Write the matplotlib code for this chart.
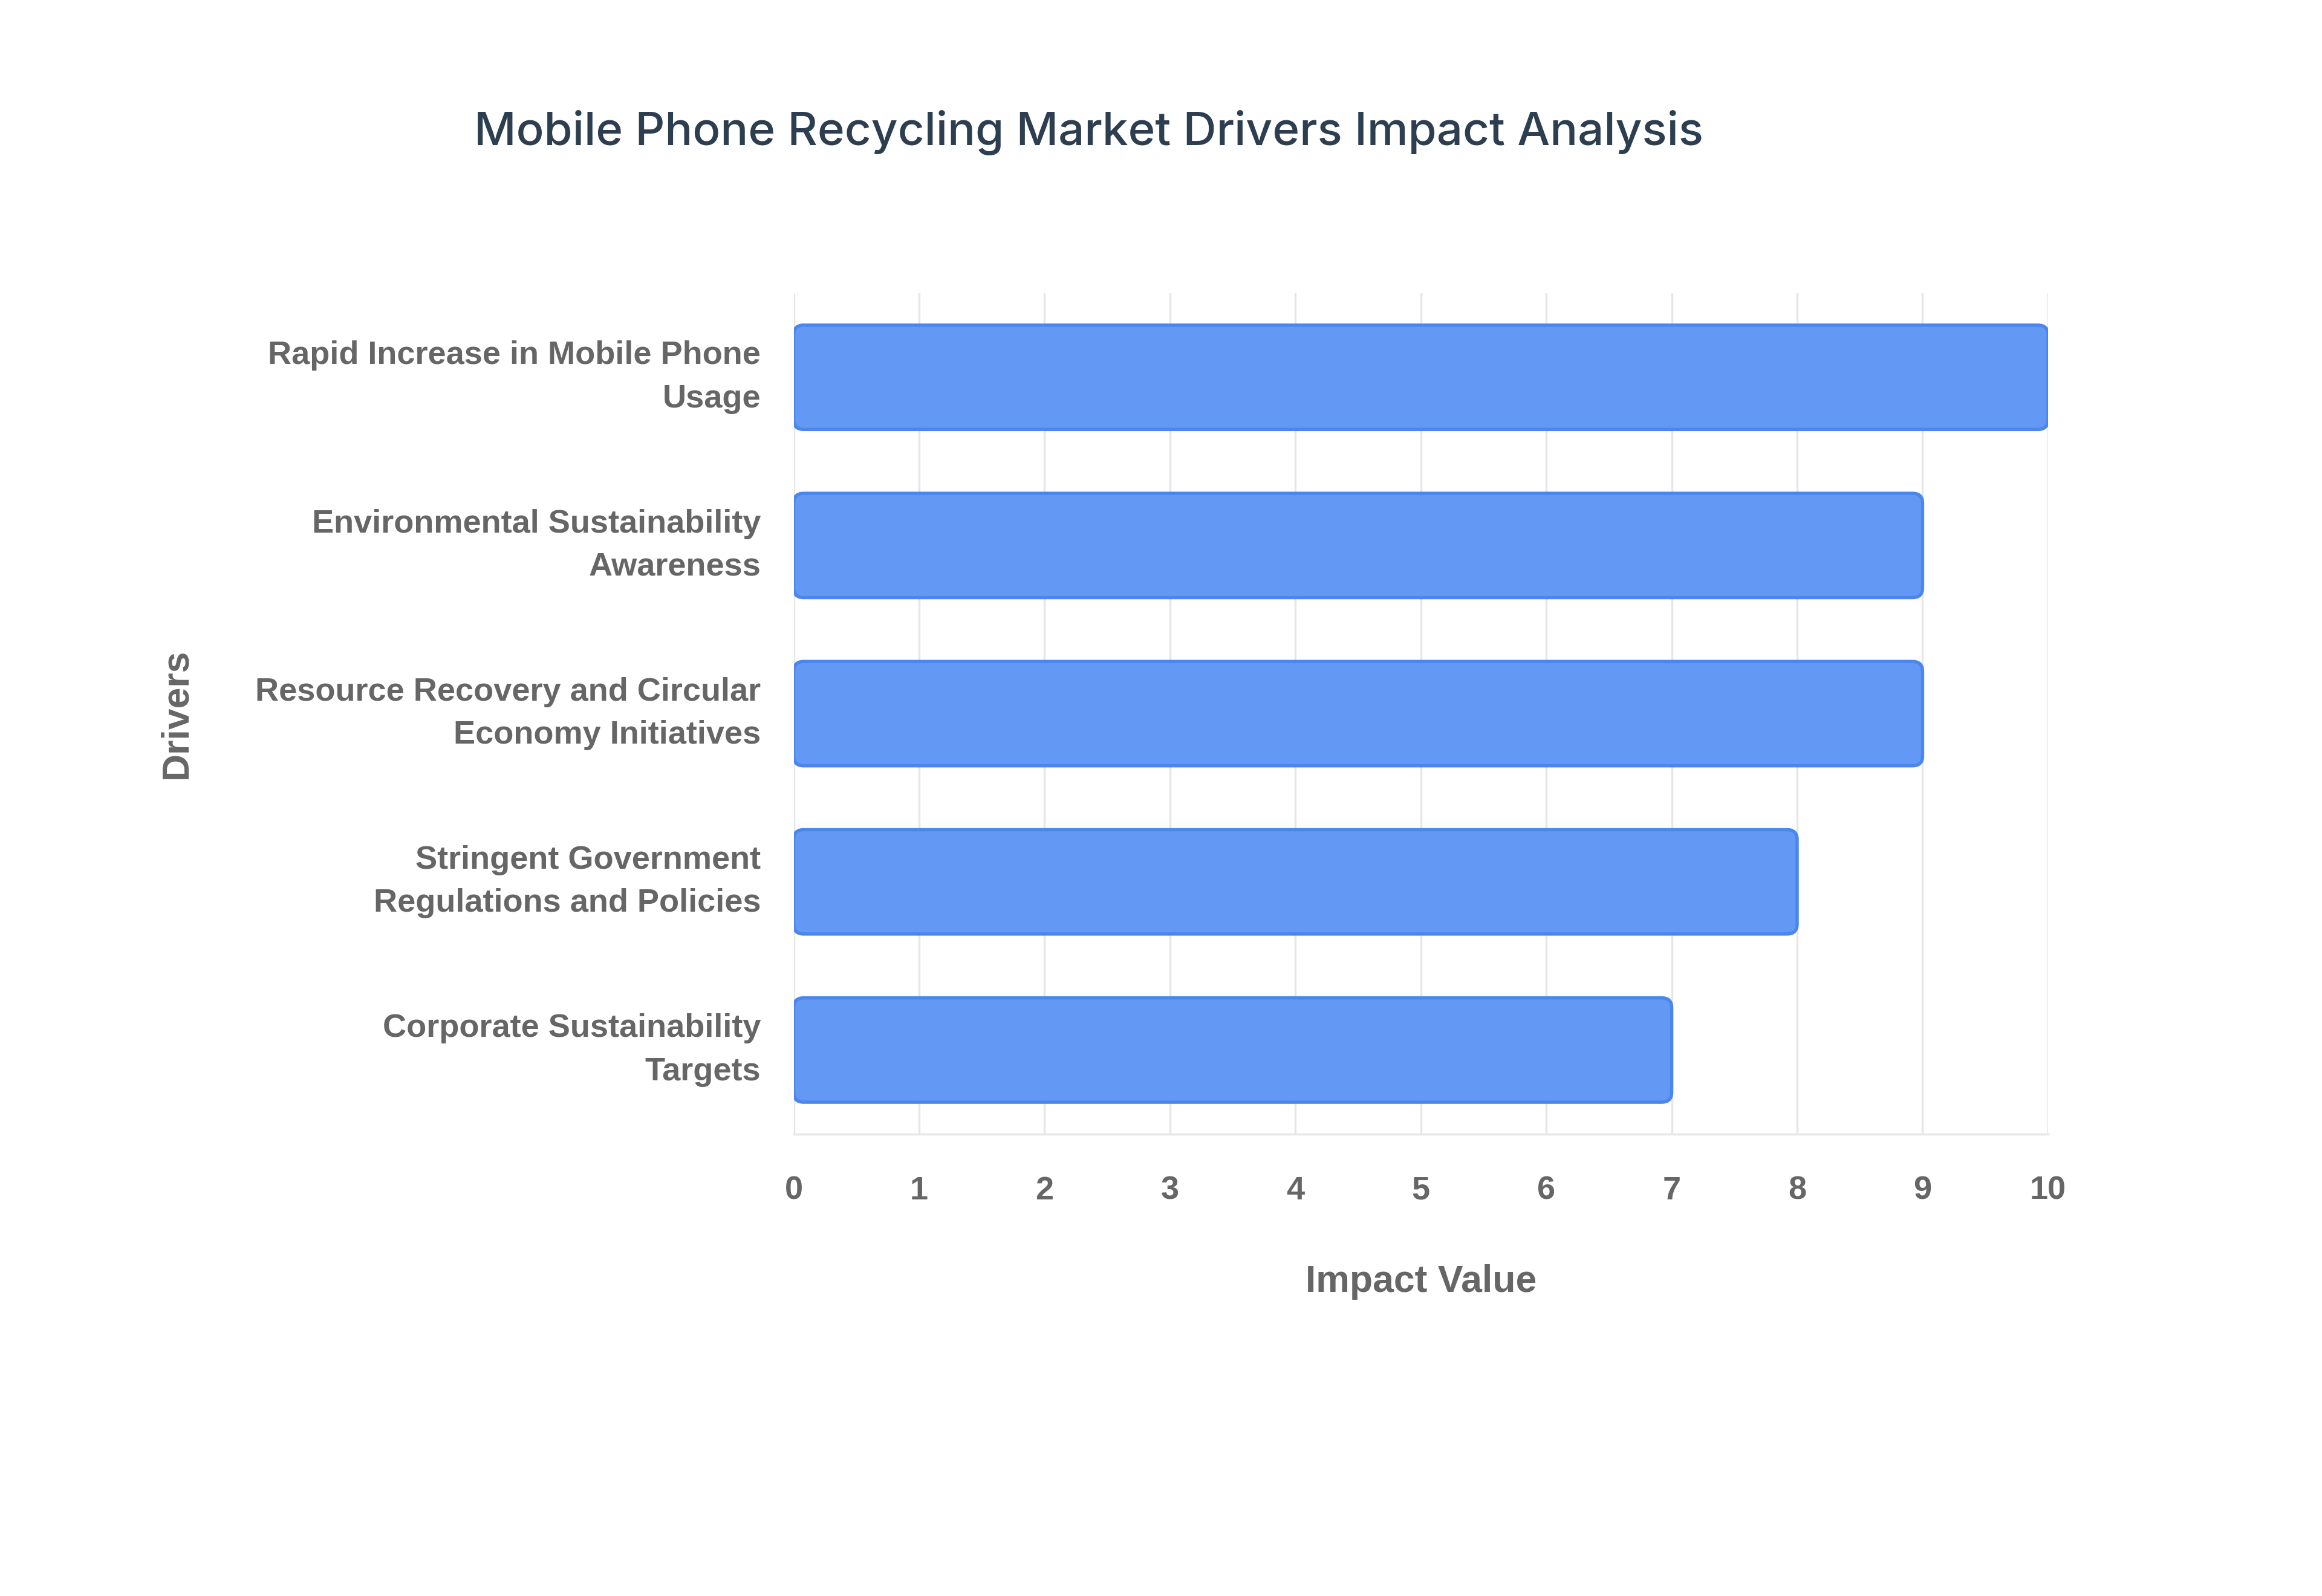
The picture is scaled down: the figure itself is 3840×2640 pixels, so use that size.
import matplotlib.pyplot as plt
import matplotlib.transforms as mtransforms
from matplotlib.patches import FancyBboxPatch

# data (top to bottom)
drivers = [
    "Rapid Increase in Mobile Phone\nUsage",
    "Environmental Sustainability\nAwareness",
    "Resource Recovery and Circular\nEconomy Initiatives",
    "Stringent Government\nRegulations and Policies",
    "Corporate Sustainability\nTargets",
]
impact = [10, 9, 9, 8, 7]
x_ticks = list(range(0, 11))

fig = plt.figure(figsize=(12.8, 8.8), dpi=300)
ax = fig.add_axes([0.3418, 0.2894, 0.5402, 0.5269])

pos = list(range(len(drivers)))
bars = ax.barh(pos, impact, height=0.62, color="none", edgecolor="none")

# swap plain bars for rounded ones, same geometry
for b in bars:
    patch = FancyBboxPatch(
        (b.get_x(), b.get_y()), b.get_width(), b.get_height(),
        boxstyle="round,pad=0,rounding_size=0.08", mutation_aspect=0.72,
        facecolor="#6399F5", edgecolor="#4A86EE", linewidth=1.3, zorder=3)
    ax.add_patch(patch)

ax.set_xlim(0, 10)
ax.set_ylim(4.5, -0.5)
ax.set_xticks(x_ticks)
ax.set_yticks(pos)
ax.set_yticklabels([])

# category labels drawn by hand so the two-line blocks sit centred on the bars
label_trans = (mtransforms.blended_transform_factory(ax.transAxes, ax.transData)
               + mtransforms.ScaledTranslation(-13 / 72, 0, fig.dpi_scale_trans))
for p, name in zip(pos, drivers):
    ax.text(0, p, name, transform=label_trans, ha="right", va="center",
            multialignment="right", linespacing=1.55, family="Liberation Sans",
            weight="bold", fontsize=13, color="#666666")

for t in ax.get_xticklabels():
    t.set_fontproperties("Liberation Sans")
    t.set_fontweight("bold")
    t.set_fontsize(13)
    t.set_color("#666666")

ax.tick_params(axis="y", length=0)
ax.tick_params(axis="x", length=0, pad=16.5)
ax.grid(axis="x", color="#E6E6E6", linewidth=0.8, zorder=0)
ax.set_axisbelow(True)
for side in ["top", "right", "left"]:
    ax.spines[side].set_visible(False)
ax.spines["bottom"].set_color("#E6E6E6")
ax.spines["bottom"].set_linewidth(0.8)

label_font = dict(family="Liberation Sans", weight="bold", color="#666666",
                  fontsize=15)
fig.text(0.0759, 0.5528, "Drivers", rotation=90, ha="center", va="center",
         **label_font)
fig.text(0.6119, 0.1966, "Impact Value", ha="center", va="center", **label_font)

fig.text(0.469, 0.917, "Mobile Phone Recycling Market Drivers Impact Analysis",
         ha="center", va="center", fontsize=18.3, family="Inter",
         weight="medium", color="#2C3E50")

fig.savefig("out.png", dpi=300, facecolor="white")
